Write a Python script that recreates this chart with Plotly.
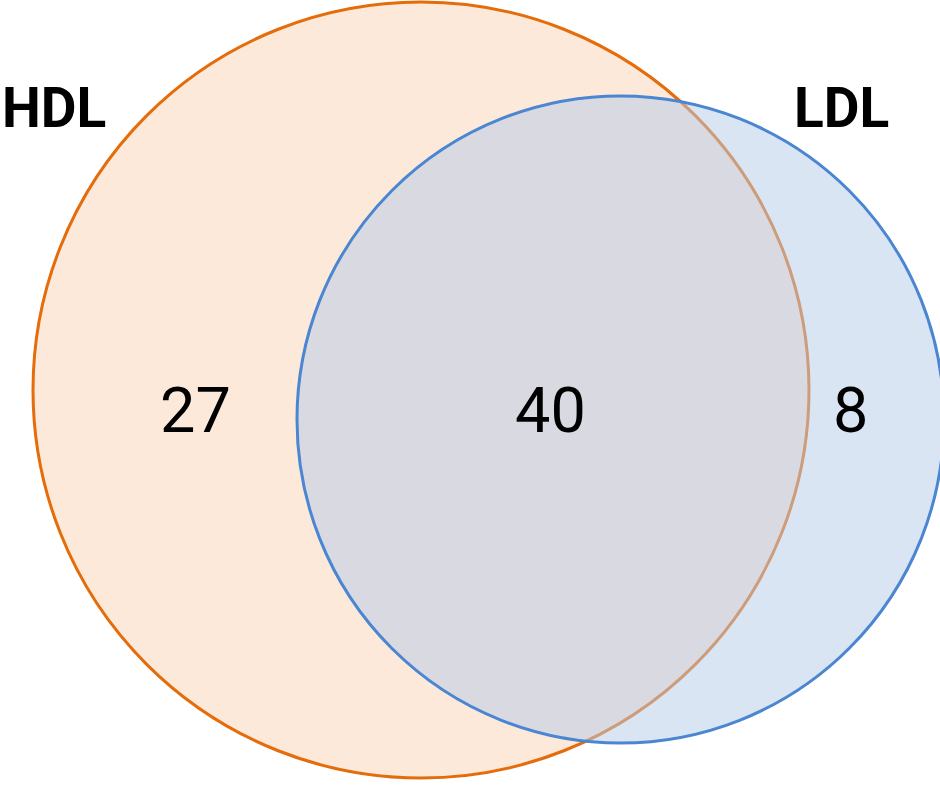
import plotly.graph_objects as go

# ---- data ----
set_labels = ["HDL", "LDL"]
region_labels = ["HDL only", "HDL and LDL", "LDL only"]
region_counts = [27, 40, 8]

# ---- geometry (pixel space of the reference, y down) ----
W, H = 940, 803
circle_centers = [(421, 390), (620.5, 419.5)]
circle_radii = [388, 323.5]
set_label_pos = [(54, 108), (841.5, 108)]
region_pos = [(195.5, 410), (550, 410), (850, 410)]

fill_colors = ["#FDE9D9", "rgba(181,203,233,0.5)"]
line_colors = ["#E46C0A", "#4A86D1"]

fig = go.Figure()

shapes = []
for (cx, cy), r, fc, lc in zip(circle_centers, circle_radii, fill_colors, line_colors):
    shapes.append(dict(type="circle", xref="x", yref="y",
                       x0=cx - r, x1=cx + r, y0=cy - r, y1=cy + r,
                       fillcolor=fc, line=dict(color=lc, width=3), layer="below"))

annotations = []
for (x, y), t in zip(set_label_pos, set_labels):
    annotations.append(dict(x=x, y=y, xref="x", yref="y", text="<b>%s</b>" % t,
                            showarrow=False, xanchor="center", yanchor="middle",
                            font=dict(family="Roboto", size=55, color="#000000")))
for (x, y), v in zip(region_pos, region_counts):
    annotations.append(dict(x=x, y=y, xref="x", yref="y", text=str(v),
                            showarrow=False, xanchor="center", yanchor="middle",
                            font=dict(family="Roboto", size=63, color="#000000")))

fig.add_trace(go.Scatter(x=[1], y=[1], mode="markers",
                         marker=dict(opacity=0), hoverinfo="skip", showlegend=False))

fig.update_layout(
    width=W, height=H,
    margin=dict(l=0, r=0, t=0, b=0),
    paper_bgcolor="white", plot_bgcolor="white",
    shapes=shapes, annotations=annotations,
    xaxis=dict(range=[0, W], visible=False, fixedrange=True),
    yaxis=dict(range=[H, 0], visible=False, fixedrange=True),
    showlegend=False,
)

fig.write_html("out.html", config={"displayModeBar": False},
               post_script="document.body.style.margin='0';document.body.style.overflow='hidden';")
